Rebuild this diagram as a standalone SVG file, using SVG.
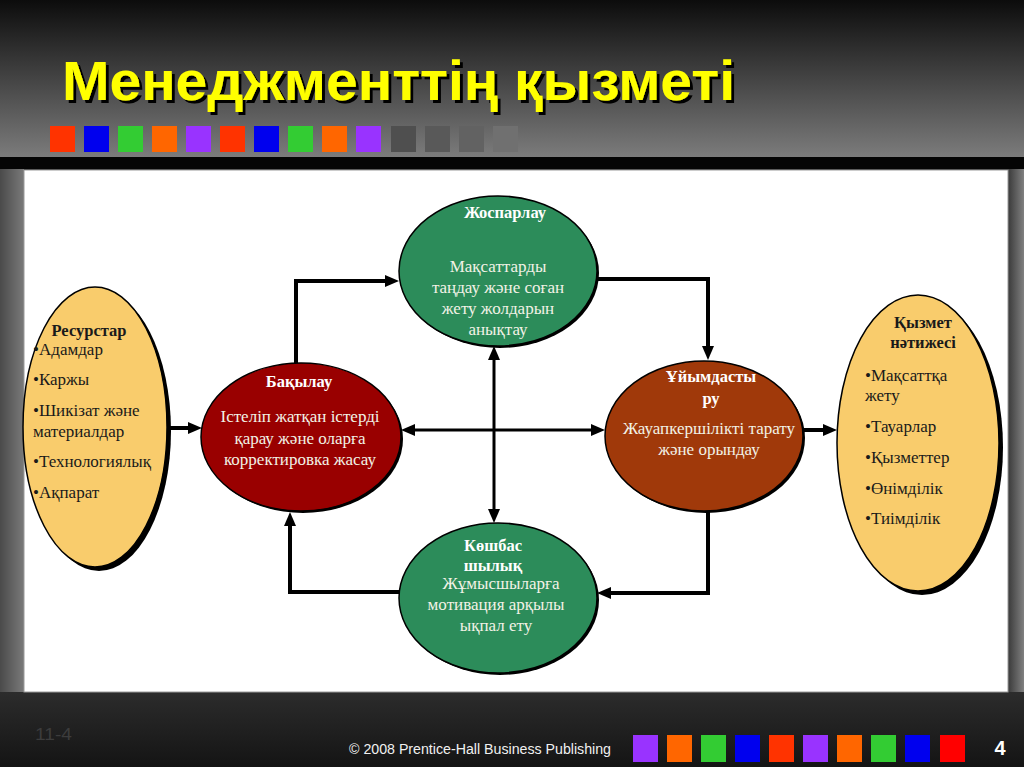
<svg xmlns="http://www.w3.org/2000/svg" width="1024" height="767" viewBox="0 0 1024 767">
<defs>
<linearGradient id="gTop" x1="0" y1="0" x2="0" y2="1">
<stop offset="0" stop-color="#0c0c0c"/><stop offset="1" stop-color="#7c7c7c"/>
</linearGradient>
<linearGradient id="gSideL" x1="0" y1="0" x2="1" y2="0">
<stop offset="0" stop-color="#4a4a4a"/><stop offset="1" stop-color="#7a7a7a"/>
</linearGradient>
<linearGradient id="gSideR" x1="0" y1="0" x2="1" y2="0">
<stop offset="0" stop-color="#3a3a3a"/><stop offset="1" stop-color="#808080"/>
</linearGradient>
<linearGradient id="gBot" x1="0" y1="0" x2="0" y2="1">
<stop offset="0" stop-color="#2c2c2c"/><stop offset="1" stop-color="#141414"/>
</linearGradient>
<filter id="tshadow" x="-5%" y="-20%" width="110%" height="140%">
<feFlood flood-color="#000"/>
<feComposite in2="SourceAlpha" operator="in" result="sh"/>
<feOffset dx="3" dy="3" result="off"/>
<feMerge><feMergeNode in="off"/><feMergeNode in="SourceGraphic"/></feMerge>
</filter>
<marker id="arr" viewBox="0 0 14 12" markerUnits="userSpaceOnUse" markerWidth="14" markerHeight="12" refX="4" refY="6" orient="auto-start-reverse">
<path d="M0,0 L14,6 L0,12 z" fill="#000"/>
</marker>
<style>
.conn{fill:none;stroke:#000;stroke-width:4;stroke-linejoin:miter}
.thin{stroke-width:3}
.hd{font-family:"Liberation Serif","Times New Roman",serif;font-weight:bold;font-size:16.5px;fill:#fff;text-anchor:middle}
.bd{font-family:"Liberation Serif","Times New Roman",serif;font-size:17px;fill:#f2f2e6;text-anchor:middle}
.side{font-family:"Liberation Serif","Times New Roman",serif;font-size:17px;fill:#1a1a1a}
.sideh{font-family:"Liberation Serif","Times New Roman",serif;font-size:16.5px;font-weight:bold;fill:#1a1a1a;text-anchor:middle}
.cen{stroke:#000;stroke-width:1.5}
.sq{stroke:none}
</style>
</defs>

<g id="background">
<rect x="0" y="0" width="1024" height="767" fill="#1c1c1c"/>
<rect x="0" y="0" width="1024" height="158" fill="url(#gTop)"/>
<rect x="0" y="157" width="1024" height="12" fill="#050505"/>
<rect x="0" y="169" width="24" height="524" fill="url(#gSideL)"/>
<rect x="1008" y="169" width="16" height="524" fill="url(#gSideR)"/>
<rect x="0" y="692" width="1024" height="75" fill="url(#gBot)"/>
<rect x="24" y="170" width="984" height="522" fill="#ffffff" stroke="#9a9a9a" stroke-width="1"/>
</g>

<g id="title">
<text x="62" y="100" filter="url(#tshadow)" font-family="'Liberation Sans Narrow','Liberation Sans',Arial,sans-serif" font-weight="bold" font-size="56" fill="#ffff00" textLength="673" lengthAdjust="spacingAndGlyphs">Менеджменттің қызметі</text>
</g>

<g id="top-squares" class="sq">
<rect x="50" y="126" width="25" height="26" fill="#ff3300"/>
<rect x="84" y="126" width="25" height="26" fill="#0000ee"/>
<rect x="118" y="126" width="25" height="26" fill="#33cc33"/>
<rect x="152" y="126" width="25" height="26" fill="#ff6600"/>
<rect x="186" y="126" width="25" height="26" fill="#9933ff"/>
<rect x="220" y="126" width="25" height="26" fill="#ff3300"/>
<rect x="254" y="126" width="25" height="26" fill="#0000ee"/>
<rect x="288" y="126" width="25" height="26" fill="#33cc33"/>
<rect x="322" y="126" width="25" height="26" fill="#ff6600"/>
<rect x="356" y="126" width="25" height="26" fill="#9933ff"/>
<rect x="391" y="126" width="25" height="26" fill="#4f4f4f"/>
<rect x="425" y="126" width="25" height="26" fill="#595959"/>
<rect x="459" y="126" width="25" height="26" fill="#626262"/>
<rect x="493" y="126" width="25" height="26" fill="#707070"/>
</g>

<g id="connectors">
<path class="conn" d="M167,428 H192" marker-end="url(#arr)"/>
<path class="conn" d="M296,363 V281 H389" marker-end="url(#arr)"/>
<path class="conn" d="M597,279 H708 V350" marker-end="url(#arr)"/>
<path class="conn" d="M708,511 V593 H607" marker-end="url(#arr)"/>
<path class="conn" d="M399,592 H290 V522" marker-end="url(#arr)"/>
<path class="conn thin" d="M494,356 V513" marker-start="url(#arr)" marker-end="url(#arr)"/>
<path class="conn thin" d="M411,430 H595" marker-start="url(#arr)" marker-end="url(#arr)"/>
<path class="conn" d="M803,430 H827" marker-end="url(#arr)"/>
</g>

<g id="node-resources">
<ellipse cx="99" cy="431" rx="72" ry="140" fill="#000"/>
<ellipse cx="95" cy="427" rx="72" ry="140" fill="#f9cc6c" stroke="#000" stroke-width="1.5"/>
<text class="sideh" x="89" y="336">Ресурстар</text>
<text class="side" x="33" y="355">•Адамдар</text>
<text class="side" x="33" y="385">•Каржы</text>
<text class="side" x="33" y="416">•Шикізат және</text>
<text class="side" x="33" y="437">материалдар</text>
<text class="side" x="33" y="467">•Технологиялық</text>
<text class="side" x="33" y="498">•Ақпарат</text>
</g>

<g id="node-results">
<ellipse cx="922" cy="447" rx="81" ry="148" fill="#000"/>
<ellipse cx="918" cy="443" rx="81" ry="148" fill="#f9cc6c" stroke="#000" stroke-width="1.5"/>
<text class="sideh" x="923" y="328">Қызмет</text>
<text class="sideh" x="923" y="348">нәтижесі</text>
<text class="side" x="865" y="381">•Мақсаттқа</text>
<text class="side" x="865" y="401">жету</text>
<text class="side" x="865" y="432">•Тауарлар</text>
<text class="side" x="865" y="463">•Қызметтер</text>
<text class="side" x="865" y="494">•Өнімділік</text>
<text class="side" x="865" y="524">•Тиімділік</text>
</g>

<g id="node-planning">
<ellipse cx="500" cy="273" rx="99" ry="75" fill="#000"/>
<ellipse class="cen" cx="498" cy="271" rx="99" ry="75" fill="#2c8c5a"/>
<text class="hd" x="505" y="218">Жоспарлау</text>
<text class="bd" x="498" y="272">Мақсаттарды</text>
<text class="bd" x="498" y="293">таңдау және соған</text>
<text class="bd" x="498" y="314">жету жолдарын</text>
<text class="bd" x="498" y="335">анықтау</text>
</g>

<g id="node-control">
<ellipse cx="303" cy="439" rx="100" ry="74" fill="#000"/>
<ellipse class="cen" cx="301" cy="437" rx="100" ry="74" fill="#990000"/>
<text class="hd" x="299" y="387">Бақылау</text>
<text class="bd" x="300" y="422">Істеліп жатқан істерді</text>
<text class="bd" x="300" y="444">қарау және оларға</text>
<text class="bd" x="300" y="465">корректировка жасау</text>
</g>

<g id="node-organizing">
<ellipse cx="706" cy="438" rx="99" ry="75" fill="#000"/>
<ellipse class="cen" cx="704" cy="436" rx="99" ry="75" fill="#a0390a"/>
<text class="hd" x="711" y="382">Ұйымдасты</text>
<text class="hd" x="711" y="404">ру</text>
<text class="bd" x="709" y="434">Жауапкершілікті тарату</text>
<text class="bd" x="709" y="455">және орындау</text>
</g>

<g id="node-leading">
<ellipse cx="500" cy="600" rx="99" ry="75" fill="#000"/>
<ellipse class="cen" cx="498" cy="598" rx="99" ry="75" fill="#2c8c5a"/>
<text class="hd" x="493" y="551">Көшбас</text>
<text class="hd" x="493" y="571">шылық</text>
<text class="bd" x="501" y="589">Жұмысшыларға</text>
<text class="bd" x="496" y="610">мотивация арқылы</text>
<text class="bd" x="496" y="631">ықпал ету</text>
</g>

<g id="footer">
<text x="35" y="740" font-family="'Liberation Sans Narrow','Liberation Sans',Arial,sans-serif" font-size="17" fill="#3c3c3c" textLength="37" lengthAdjust="spacingAndGlyphs">11-4</text>
<text x="349" y="754" font-family="'Liberation Sans Narrow','Liberation Sans',Arial,sans-serif" font-size="14" fill="#f0f0f0" textLength="262" lengthAdjust="spacingAndGlyphs">© 2008 Prentice-Hall Business Publishing</text>
<rect x="633" y="735" width="25" height="27" fill="#9933ff"/>
<rect x="667" y="735" width="25" height="27" fill="#ff6600"/>
<rect x="701" y="735" width="25" height="27" fill="#33cc33"/>
<rect x="735" y="735" width="25" height="27" fill="#0000ee"/>
<rect x="769" y="735" width="25" height="27" fill="#ff3300"/>
<rect x="803" y="735" width="25" height="27" fill="#9933ff"/>
<rect x="837" y="735" width="25" height="27" fill="#ff6600"/>
<rect x="871" y="735" width="25" height="27" fill="#33cc33"/>
<rect x="905" y="735" width="25" height="27" fill="#0000ee"/>
<rect x="940" y="735" width="25" height="27" fill="#ff0000"/>
<text x="1000" y="755" font-family="'Liberation Sans Narrow','Liberation Sans',Arial,sans-serif" font-weight="bold" font-size="20" fill="#ffffff" text-anchor="middle">4</text>
</g>
</svg>
